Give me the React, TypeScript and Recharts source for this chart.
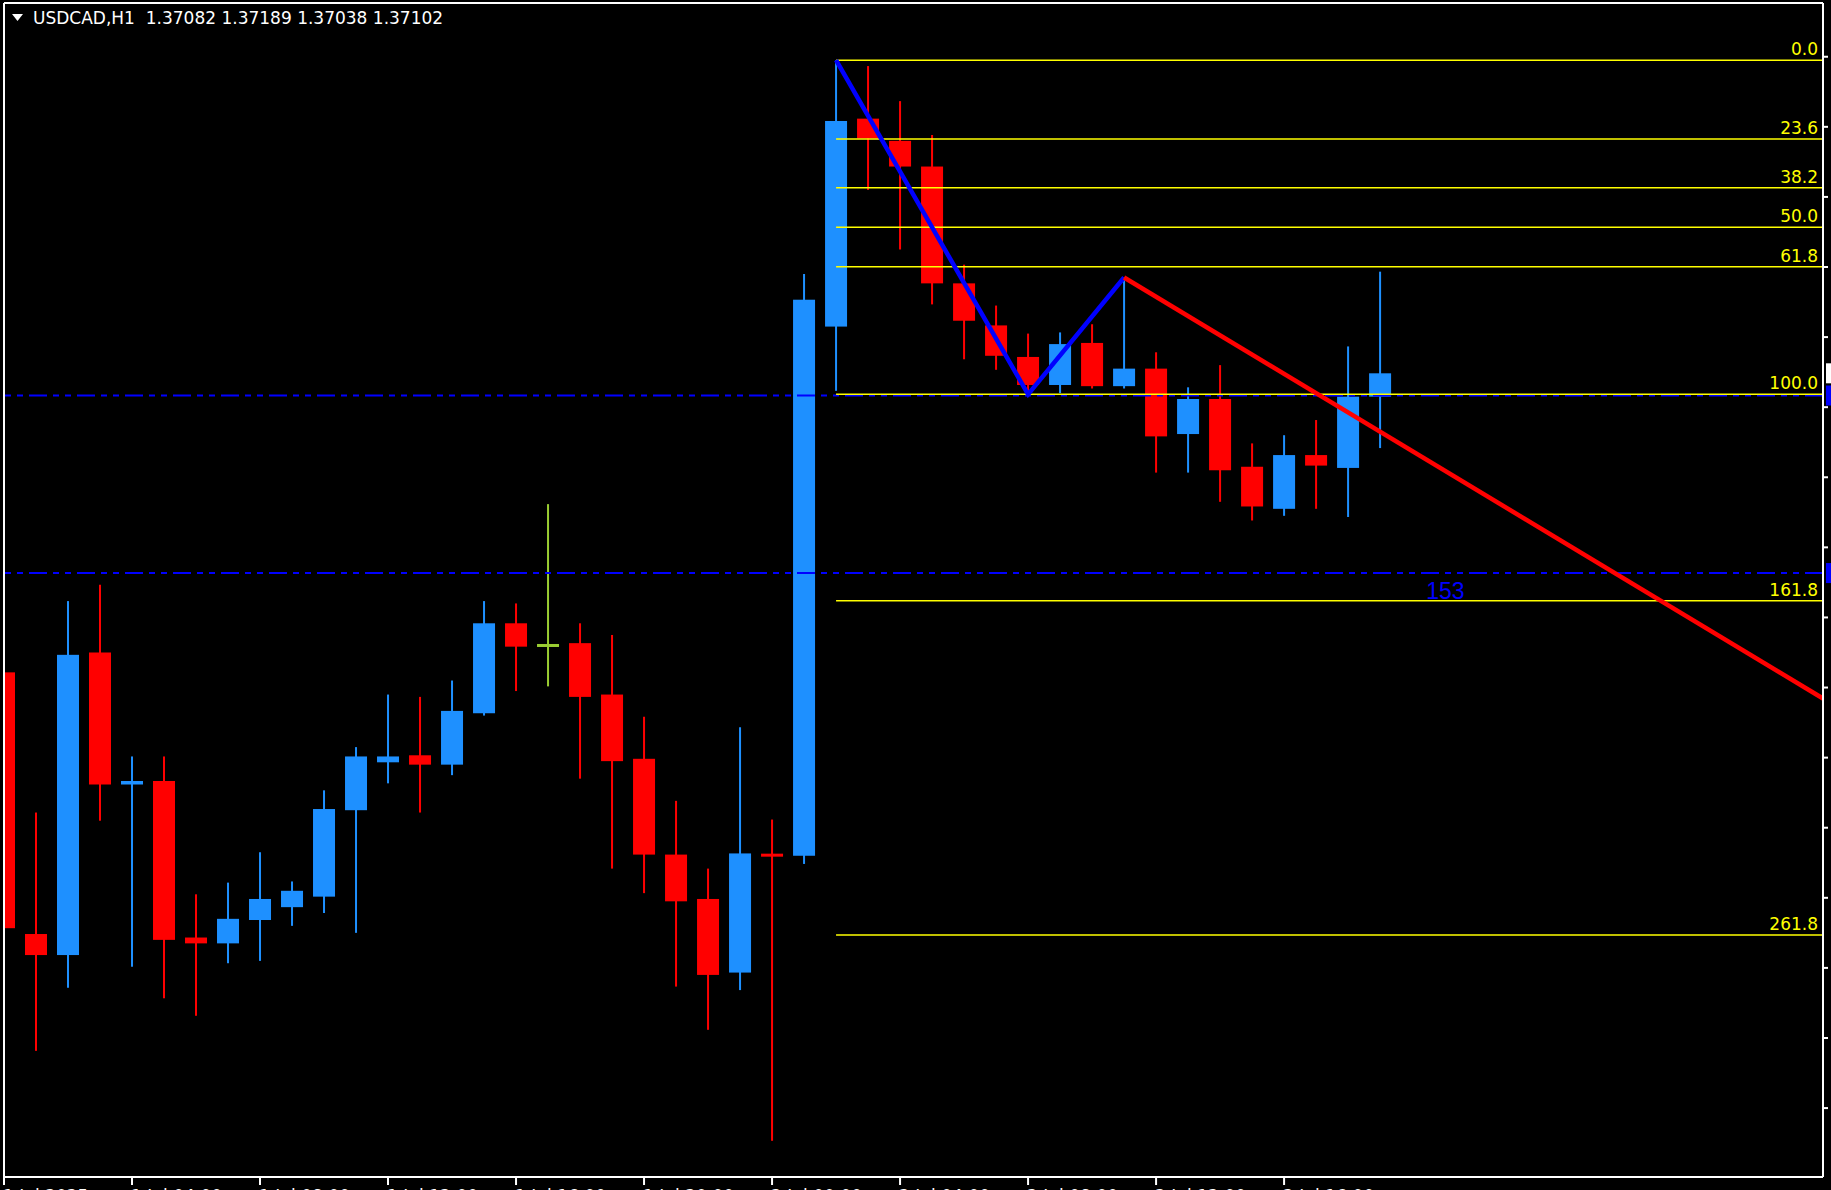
import { ComposedChart, Bar, Line, XAxis, YAxis, ReferenceLine, ReferenceDot } from 'recharts'

// OHLC of the 44 H1 bars, left to right
const opens = [
    1.36846, 1.36622, 1.36604, 1.36863, 1.36750, 1.36753, 1.36619, 1.36614, 1.36634, 1.36645,
    1.36654, 1.36728, 1.36769, 1.36775, 1.36767, 1.36811, 1.36888, 1.36869, 1.36871, 1.36827,
    1.36772, 1.36690, 1.36652, 1.36589, 1.36690, 1.36689, 1.37142, 1.37320, 1.37301, 1.37279,
    1.37179, 1.37143, 1.37116, 1.37092, 1.37128, 1.37091, 1.37106, 1.37050, 1.37080, 1.37022,
    1.36986, 1.37032, 1.37021, 1.37082,
]
const highs = [
    1.36969, 1.36726, 1.36907, 1.36921, 1.36774, 1.36774, 1.36656, 1.36666, 1.36692, 1.36667,
    1.36745, 1.36782, 1.36827, 1.36825, 1.36839, 1.36907, 1.36905, 1.36990, 1.36888, 1.36878,
    1.36808, 1.36736, 1.36678, 1.36799, 1.36720, 1.37187, 1.37370, 1.37365, 1.37335, 1.37306,
    1.37195, 1.37160, 1.37136, 1.37137, 1.37144, 1.37184, 1.37120, 1.37090, 1.37109, 1.37042,
    1.37049, 1.37062, 1.37125, 1.37189,
]
const lows = [
    1.36610, 1.36522, 1.36576, 1.36719, 1.36594, 1.36567, 1.36552, 1.36597, 1.36599, 1.36629,
    1.36640, 1.36623, 1.36751, 1.36726, 1.36758, 1.36809, 1.36830, 1.36834, 1.36755, 1.36678,
    1.36657, 1.36577, 1.36540, 1.36574, 1.36445, 1.36682, 1.37087, 1.37259, 1.37208, 1.37161,
    1.37114, 1.37105, 1.37084, 1.37085, 1.37089, 1.37089, 1.37017, 1.37017, 1.36992, 1.36976,
    1.36980, 1.36986, 1.36979, 1.37038,
]
const closes = [
    1.36627, 1.36604, 1.36861, 1.36750, 1.36753, 1.36617, 1.36614, 1.36635, 1.36652, 1.36659,
    1.36729, 1.36774, 1.36774, 1.36767, 1.36813, 1.36888, 1.36868, 1.36869, 1.36825, 1.36770,
    1.36690, 1.36650, 1.36587, 1.36691, 1.36689, 1.37165, 1.37318, 1.37303, 1.37279, 1.37179,
    1.37147, 1.37117, 1.37092, 1.37127, 1.37091, 1.37106, 1.37048, 1.37080, 1.37019, 1.36988,
    1.37032, 1.37023, 1.37082, 1.37102,
]

// time scale: one label every 4 bars
const timeTickBars = [0, 4, 8, 12, 16, 20, 24, 28, 32, 36, 40]
const timeLabels = [
    '1 Jul 2025', '1 Jul 04:00', '1 Jul 08:00', '1 Jul 12:00', '1 Jul 16:00', '1 Jul 20:00',
    '2 Jul 00:00', '2 Jul 04:00', '2 Jul 08:00', '2 Jul 12:00', '2 Jul 16:00',
]

// price scale ticks (labels sit past the cropped right edge)
const priceTicks = [
    1.37373, 1.37313, 1.37253, 1.37193, 1.37133, 1.37073, 1.37013, 1.36953, 1.36893, 1.36833,
    1.36773, 1.36713, 1.36653, 1.36593, 1.36533, 1.36473,
]

// fibonacci retracement drawn from bar 26 high to bar 32 low
const fibStartBar = 26
const fibHigh = 1.37370
const fibLow = 1.37084
const fibRatios = [0, 23.6, 38.2, 50, 61.8, 100, 161.8, 261.8]

// zigzag and trend line anchors
const zigBars = [26, 32, 35]
const zigPrices = [1.37370, 1.37084, 1.37184]
const trendBars = [35, 41]
const trendPrices = [1.37184, 1.37085]

// horizontal dashed lines
const hLines = [1.37083, 1.36931]
const bidPrice = 1.37102

const note = { bar: 45.04, price: 1.36909, text: '153' }

const P_MIN = 1.36414
const P_MAX = 1.37419
const X_END = 56.84

const BLUE = '#1e90ff'
const RED = '#ff0000'
const DOJI = '#9acd32'
const FONT = '"DejaVu Sans", sans-serif'

const zigMap: Record<number, number> = {}
zigBars.forEach((b, k) => { zigMap[b] = zigPrices[k] })

const rows = opens.map((o, i) => ({
    i,
    o,
    h: highs[i],
    l: lows[i],
    c: closes[i],
    zig: zigMap[i] ?? null,
}))

const trendSlope = (trendPrices[1] - trendPrices[0]) / (trendBars[1] - trendBars[0])
const trendEnd = trendPrices[0] + trendSlope * (X_END - trendBars[0])

const Candle = (props: any) => {
    const { x, y, width, height, payload } = props
    if (!payload || height == null || isNaN(y)) return null
    const { o, h, l, c } = payload
    const k = h > l ? height / (h - l) : 0
    const color = c > o ? BLUE : c < o ? RED : DOJI
    const mid = x + width / 2
    const top = y + (h - Math.max(o, c)) * k
    const bot = y + (h - Math.min(o, c)) * k
    const bh = Math.max(bot - top, 3)
    const by = top - (bh - (bot - top)) / 2
    return (
        <g>
            <rect x={mid - 1} y={y} width={2} height={Math.max(height, 1)} fill={color} />
            <rect x={x} y={by} width={width} height={bh} fill={color} />
        </g>
    )
}

const TimeTick = (props: any) => {
    const { x, y, payload } = props
    const idx = timeTickBars.indexOf(payload.value)
    return (
        <text x={x - 1} y={y + 15} fill="#fff" fontSize={17} fontFamily={FONT} textAnchor="start">
            {timeLabels[idx] ?? ''}
        </text>
    )
}

const fibLabel = (text: string) => (props: any) => (
    <text x={props.cx - 5} y={props.cy - 5} fill="#ffff00" fontSize={17} fontFamily={FONT} textAnchor="end">
        {text}
    </text>
)

const priceBox = (bg: string) => (props: any) => (
    <rect x={props.cx + 3} y={props.cy - 10} width={70} height={20} fill={bg} />
)

export default function App() {
    return (
        <div style={{ position: 'fixed', left: 0, top: 0, width: 1831, height: 1190, overflow: 'hidden', background: '#000' }}>
            <ComposedChart width={1900} height={1240} data={rows} margin={{ top: 3, right: 0, left: 4, bottom: 0 }}>
                <XAxis
                    dataKey="i"
                    type="number"
                    domain={[0, X_END]}
                    allowDataOverflow
                    ticks={timeTickBars}
                    interval={0}
                    height={63}
                    tickSize={8}
                    axisLine={{ stroke: '#fff', strokeWidth: 2 }}
                    tickLine={{ stroke: '#fff', strokeWidth: 2 }}
                    tick={<TimeTick />}
                />
                <YAxis
                    orientation="right"
                    type="number"
                    domain={[P_MIN, P_MAX]}
                    allowDataOverflow
                    ticks={priceTicks}
                    interval={0}
                    width={77}
                    tickSize={5}
                    axisLine={{ stroke: '#fff', strokeWidth: 2 }}
                    tickLine={{ stroke: '#fff', strokeWidth: 2 }}
                    tick={{ fill: '#fff', fontSize: 17, fontFamily: FONT }}
                    tickFormatter={(v: number) => v.toFixed(5)}
                />

                {/* frame top and left */}
                <ReferenceLine y={P_MAX} stroke="#fff" strokeWidth={2} ifOverflow="visible" />
                <ReferenceLine x={0} stroke="#fff" strokeWidth={2} ifOverflow="visible" />

                {hLines.map((p, k) => (
                    <ReferenceLine key={`h-${k}`} y={p} stroke="#0000ff" strokeWidth={2} strokeDasharray="18 6 6 6 6 6" />
                ))}

                {fibRatios.map((r) => {
                    const p = fibHigh - (r / 100) * (fibHigh - fibLow)
                    return (
                        <ReferenceLine
                            key={`fib-${r}`}
                            segment={[{ x: fibStartBar, y: p }, { x: X_END, y: p }]}
                            stroke="#ffff00"
                            strokeWidth={1.5}
                        />
                    )
                })}
                {fibRatios.map((r) => {
                    const p = fibHigh - (r / 100) * (fibHigh - fibLow)
                    return (
                        <ReferenceDot key={`fl-${r}`} x={X_END} y={p} ifOverflow="visible" shape={fibLabel(r.toFixed(1))} />
                    )
                })}

                <Bar dataKey={(d: any) => [d.l, d.h]} barSize={22} shape={<Candle />} isAnimationActive={false} />

                <Line
                    dataKey="zig"
                    type="linear"
                    connectNulls
                    stroke="#0000ff"
                    strokeWidth={4.5}
                    dot={false}
                    activeDot={false}
                    isAnimationActive={false}
                />

                <ReferenceLine
                    segment={[{ x: trendBars[0], y: trendPrices[0] }, { x: X_END, y: trendEnd }]}
                    stroke="#ff0000"
                    strokeWidth={4.5}
                />

                <ReferenceDot
                    x={note.bar}
                    y={note.price}
                    ifOverflow="visible"
                    shape={(p: any) => (
                        <text x={p.cx} y={p.cy} fill="#0000ff" fontSize={23} fontFamily='"Liberation Sans", sans-serif' textAnchor="middle">
                            {note.text}
                        </text>
                    )}
                />

                <ReferenceDot x={X_END} y={bidPrice} ifOverflow="visible" shape={priceBox('#ffffff')} />
                {hLines.map((p, k) => (
                    <ReferenceDot key={`hb-${k}`} x={X_END} y={p} ifOverflow="visible" shape={priceBox('#0000ff')} />
                ))}
            </ComposedChart>

            <svg width={600} height={40} style={{ position: 'absolute', left: 0, top: 0 }}>
                <polygon points="12,14 23,14 17.5,21" fill="#fff" />
                <text x={33} y={24} fill="#fff" fontSize={17} fontFamily={FONT} style={{ whiteSpace: 'pre' }}>
                    {'USDCAD,H1  1.37082 1.37189 1.37038 1.37102'}
                </text>
            </svg>
        </div>
    )
}
